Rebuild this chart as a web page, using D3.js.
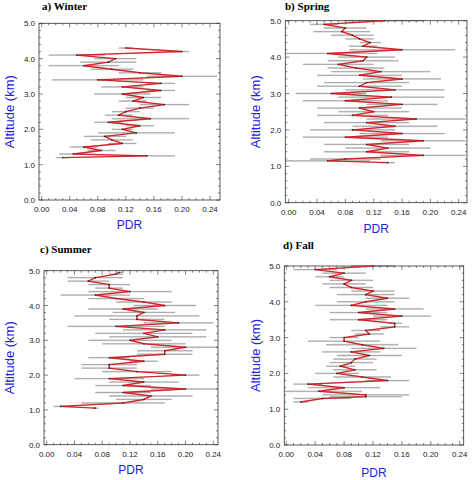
<!DOCTYPE html><html><head><meta charset="utf-8"><script src="https://cdn.jsdelivr.net/npm/d3@7"></script>
<style>body{margin:0;background:#fff}</style></head><body><svg width="474" height="480"></svg><script>
const xTicks=[0,0.04,0.08,0.12,0.16,0.20,0.24];
const yTicks=[0,1,2,3,4,5];
const titles=["a) Winter","b) Spring","c) Summer","d) Fall"];
const winterAlt=[4.3,4.2,4.1,4.0,3.9,3.8,3.7,3.6,3.5,3.4,3.3,3.2,3.1,3.0,2.9,2.8,2.7,2.6,2.5,2.4,2.3,2.2,2.1,2.0,1.9,1.8,1.7,1.6,1.5,1.4,1.3,1.25,1.2];
const winterPdr=[0.12,0.20,0.05,0.105,0.095,0.06,0.10,0.14,0.20,0.08,0.17,0.115,0.17,0.115,0.145,0.13,0.175,0.14,0.12,0.11,0.155,0.095,0.14,0.115,0.135,0.09,0.10,0.115,0.06,0.085,0.045,0.15,0.03];
const winterErr=[0.01,0.01,0.04,0.03,0.04,0.05,0.03,0.03,0.05,0.065,0.02,0.03,0.02,0.04,0.025,0.02,0.035,0.02,0.02,0.02,0.055,0.02,0.02,0.015,0.055,0.03,0.03,0.02,0.02,0.02,0.02,0.04,0.01];
const springAlt=[5.0,4.9,4.8,4.7,4.6,4.5,4.4,4.3,4.2,4.1,4.0,3.9,3.8,3.7,3.6,3.5,3.4,3.3,3.2,3.1,3.0,2.9,2.8,2.7,2.6,2.5,2.4,2.3,2.2,2.1,2.0,1.9,1.8,1.7,1.6,1.5,1.4,1.3,1.2,1.15,1.1];
const springPdr=[0.135,0.05,0.08,0.075,0.09,0.10,0.115,0.105,0.16,0.055,0.11,0.105,0.07,0.095,0.13,0.10,0.16,0.11,0.10,0.15,0.06,0.145,0.08,0.16,0.10,0.12,0.09,0.18,0.11,0.15,0.09,0.16,0.08,0.19,0.11,0.14,0.11,0.19,0.08,0.055,0.14];
const springErr=[0.055,0.02,0.03,0.04,0.03,0.02,0.015,0.02,0.075,0.07,0.04,0.05,0.05,0.04,0.07,0.06,0.055,0.06,0.06,0.07,0.05,0.075,0.06,0.05,0.06,0.05,0.05,0.07,0.06,0.06,0.06,0.06,0.06,0.06,0.06,0.06,0.06,0.06,0.05,0.06,0.01];
const summerAlt=[4.95,4.9,4.8,4.7,4.6,4.5,4.4,4.3,4.2,4.1,4.0,3.9,3.8,3.7,3.6,3.5,3.4,3.3,3.2,3.1,3.0,2.9,2.8,2.7,2.6,2.5,2.4,2.3,2.2,2.1,2.0,1.9,1.8,1.7,1.6,1.5,1.4,1.3,1.2,1.1,1.05];
const summerPdr=[0.105,0.10,0.07,0.06,0.09,0.09,0.12,0.07,0.10,0.14,0.17,0.11,0.14,0.13,0.13,0.19,0.10,0.17,0.14,0.16,0.12,0.14,0.20,0.17,0.17,0.09,0.14,0.09,0.09,0.13,0.20,0.09,0.14,0.11,0.20,0.11,0.15,0.14,0.11,0.02,0.07];
const summerErr=[0.005,0.01,0.04,0.03,0.03,0.02,0.06,0.05,0.04,0.04,0.045,0.05,0.045,0.09,0.04,0.05,0.07,0.06,0.07,0.07,0.06,0.06,0.05,0.04,0.04,0.03,0.02,0.04,0.04,0.05,0.02,0.05,0.05,0.04,0.05,0.04,0.06,0.04,0.06,0.01,0.005];
const fallAlt=[5.0,4.9,4.8,4.7,4.6,4.5,4.4,4.3,4.2,4.1,4.0,3.9,3.8,3.7,3.6,3.5,3.4,3.3,3.2,3.1,3.0,2.9,2.8,2.7,2.6,2.5,2.4,2.3,2.2,2.1,2.0,1.9,1.8,1.7,1.6,1.5,1.4,1.35,1.3,1.2];
const fallPdr=[0.12,0.04,0.08,0.06,0.09,0.08,0.09,0.12,0.11,0.14,0.11,0.09,0.15,0.10,0.16,0.10,0.15,0.15,0.11,0.115,0.08,0.08,0.105,0.135,0.09,0.115,0.095,0.09,0.075,0.095,0.07,0.105,0.14,0.03,0.08,0.045,0.11,0.11,0.05,0.02];
const fallErr=[0.03,0.03,0.03,0.02,0.03,0.03,0.03,0.03,0.04,0.03,0.04,0.05,0.04,0.04,0.04,0.04,0.01,0.02,0.02,0.02,0.02,0.05,0.05,0.045,0.04,0.045,0.03,0.03,0.02,0.03,0.03,0.04,0.03,0.02,0.05,0.06,0.06,0.05,0.04,0.01];
const panels=[
 {alt:winterAlt,pdr:winterPdr,err:winterErr,l:39,r:220,t:23.3,b:200,x0:41.7,x24:210,tx:42,ty:10,lx:8,px:229},
 {alt:springAlt,pdr:springPdr,err:springErr,l:285.3,r:467,t:20.7,b:202.7,x0:288.7,x24:458.7,tx:285,ty:10,lx:254,px:233},
 {alt:summerAlt,pdr:summerPdr,err:summerErr,l:44,r:218,t:270.7,b:444.7,x0:46.7,x24:213.3,tx:40,ty:253,lx:8,px:474},
 {alt:fallAlt,pdr:fallPdr,err:fallErr,l:284.3,r:463.7,t:266,b:445,x0:286.3,x24:459.7,tx:283,ty:249,lx:254,px:477}];
const svg=d3.select("svg");
panels.forEach((p,i)=>{
 const k=(p.x24-p.x0)/0.24;
 const x=d3.scaleLinear().domain([(p.l-p.x0)/k,(p.r-p.x0)/k]).range([p.l,p.r]);
 const y=d3.scaleLinear().domain([0,5]).range([p.b,p.t]);
 const g=svg.append("g");
 const cl=g.append("g");
 p.alt.forEach((a,j)=>{
  const lo=Math.max(p.pdr[j]-p.err[j],x.domain()[0]),hi=Math.min(p.pdr[j]+p.err[j],x.domain()[1]);
  cl.append("line").attr("x1",x(lo)).attr("x2",x(hi)).attr("y1",y(a)).attr("y2",y(a)).attr("stroke","#dcdcdc").attr("stroke-width",1.8);
  cl.append("line").attr("x1",x(lo)).attr("x2",x(hi)).attr("y1",y(a)).attr("y2",y(a)).attr("stroke","#777").attr("stroke-width",0.5);
 });
 g.append("rect").attr("x",p.l).attr("y",p.t).attr("width",p.r-p.l).attr("height",p.b-p.t).attr("fill","none").attr("stroke","#333").attr("stroke-width",0.8);
 const minX=d3.range(0,0.25,0.01), minY=d3.range(0,5.01,0.2);
 minX.forEach(v=>{const big=xTicks.some(t=>Math.abs(t-v)<1e-6);const L=big?4:2;
  g.append("line").attr("x1",x(v)).attr("x2",x(v)).attr("y1",p.b).attr("y2",p.b-L).attr("stroke","#333").attr("stroke-width",0.6);
  g.append("line").attr("x1",x(v)).attr("x2",x(v)).attr("y1",p.t).attr("y2",p.t+L).attr("stroke","#333").attr("stroke-width",0.6);});
 minY.forEach(v=>{const big=yTicks.some(t=>Math.abs(t-v)<1e-6);const L=big?4:2;
  g.append("line").attr("y1",y(v)).attr("y2",y(v)).attr("x1",p.l).attr("x2",p.l+L).attr("stroke","#333").attr("stroke-width",0.6);
  g.append("line").attr("y1",y(v)).attr("y2",y(v)).attr("x1",p.r).attr("x2",p.r-L).attr("stroke","#333").attr("stroke-width",0.6);});
 xTicks.forEach(v=>g.append("text").attr("x",x(v)).attr("y",p.b+12).attr("text-anchor","middle").attr("font-family","Liberation Sans").attr("font-size",8).attr("fill","#222").text(v.toFixed(2)));
 yTicks.forEach(v=>g.append("text").attr("x",p.l-4).attr("y",y(v)+3).attr("text-anchor","end").attr("font-family","Liberation Sans").attr("font-size",8).attr("fill","#222").text(v.toFixed(1)));
 g.append("text").attr("x",p.tx).attr("y",p.ty).attr("font-family","Liberation Serif").attr("font-weight","bold").attr("font-size",11).text(titles[i]);
 g.append("text").attr("transform",`translate(${p.lx+6},${(p.t+p.b)/2}) rotate(-90)`).attr("text-anchor","middle").attr("font-family","Liberation Sans").attr("font-size",13).attr("fill","#2222dd").text("Altitude (km)");
 g.append("text").attr("x",(p.l+p.r)/2).attr("y",p.px).attr("text-anchor","middle").attr("font-family","Liberation Sans").attr("font-size",12).attr("fill","#2222dd").text("PDR");
 const line=d3.line().x((d,j)=>x(p.pdr[j])).y(d=>y(d));
 g.append("path").attr("d",line(p.alt)).attr("fill","none").attr("stroke","#e8383d").attr("stroke-width",1.4);
 g.append("path").attr("d",line(p.alt)).attr("fill","none").attr("stroke","#700").attr("stroke-width",0.3);
 p.alt.forEach((a,j)=>g.append("circle").attr("cx",x(p.pdr[j])).attr("cy",y(a)).attr("r",0.8).attr("fill","#222"));
});
</script></body></html>
